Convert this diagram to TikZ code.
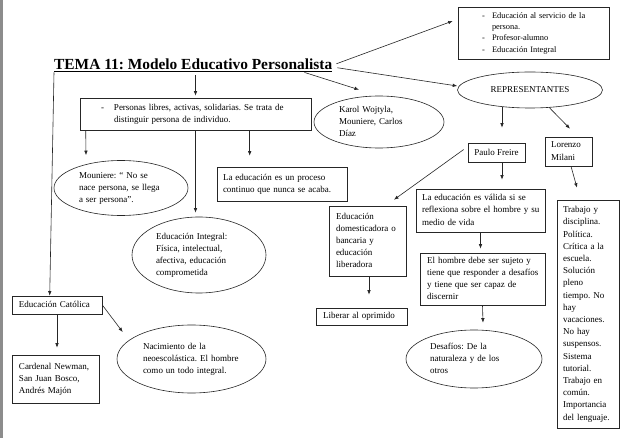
\documentclass[tikz,border=0pt]{standalone}
\usepackage{fontspec}
\setmainfont{Liberation Serif}
\usetikzlibrary{shapes.geometric,arrows.meta,calc}
\newcommand{\lns}[1]{\begin{tabular}{@{}l@{}}#1\end{tabular}}
\frenchspacing
\begin{document}
\begin{tikzpicture}[x=1pt,y=-1pt,
  every node/.style={font=\fontsize{9}{12.2}\selectfont, inner ysep=0pt},
  bx/.style={draw=black!85, line width=0.6pt, rectangle, align=left},
  el/.style={draw=black!85, line width=0.6pt, ellipse, align=left, inner sep=0pt},
  arr/.style={draw=black!85, line width=0.6pt, -{Latex[length=4.5pt,width=3.5pt]}},
  ttl/.style={font=\fontsize{15.4}{17}\bfseries, inner sep=0pt}]
\useasboundingbox (0,0) rectangle (640,438);
\fill[white] (0,0) rectangle (640,438);
\fill[black!45] (0,0) rectangle (2.5,438);

% title
\node[ttl, anchor=base west] (T) at (54,70) {\underline{TEMA 11: Modelo Educativo Personalista}};

% boxes
\node[bx, minimum width=231, minimum height=32, inner xsep=21, text width=189] (P) at (195.5,114)
  {\lns{\makebox[13pt][l]{-}Personas libres, activas, solidarias. Se trata de\\\hspace*{13pt}distinguir persona de individuo.}};
\node[bx, minimum width=130, minimum height=34, inner xsep=6, text width=118] (LE) at (282,184)
  {\lns{La educación es un proceso\\continuo que nunca se acaba.}};
\node[bx, minimum width=151, minimum height=52, inner xsep=24, text width=103, font=\fontsize{8.4}{11.4}\selectfont] (TR) at (533.5,33)
  {\lns{\makebox[10pt][l]{-}Educación al servicio de la\\\hspace*{10pt}persona.\\\makebox[10pt][l]{-}Profesor-alumno\\\makebox[10pt][l]{-}Educación Integral}};
\node[bx, minimum width=90, minimum height=18, inner xsep=7, text width=76] (EC) at (57,305)
  {\lns{Educación Católica}};
\node[bx, minimum width=87, minimum height=48, inner xsep=7, text width=73] (CN) at (55.5,379)
  {\lns{Cardenal Newman,\\San Juan Bosco,\\Andrés Majón}};
\node[bx, minimum width=57, minimum height=19, align=center] (PF) at (496.5,152.5)
  {Paulo Freire};
\node[bx, minimum width=47, minimum height=29, inner xsep=6, text width=35] (LM) at (568.5,151.5)
  {\lns{Lorenzo\\Milani}};
\node[bx, minimum width=77, minimum height=70, inner xsep=7, text width=63] (ED) at (367.5,241)
  {\lns{Educación\\domesticadora o\\bancaria y\\educación\\liberadora}};
\node[bx, minimum width=129, minimum height=43, inner xsep=6, text width=117] (LV) at (480.5,210.5)
  {\lns{La educación es válida si se\\reflexiona sobre el hombre y su\\medio de vida}};
\node[bx, minimum width=125, minimum height=52, inner xsep=7, text width=111] (EH) at (482.5,279)
  {\lns{El hombre debe ser sujeto y\\tiene que responder a desafíos\\y tiene que ser capaz de\\discernir}};
\node[bx, minimum width=91, minimum height=17, inner xsep=7, text width=77] (LO) at (361.5,316.5)
  {\lns{Liberar al oprimido}};
\node[bx, minimum width=62, minimum height=228, inner xsep=6, text width=50] (TD) at (588,314)
  {\lns{Trabajo y\\disciplina.\\Política.\\Crítica a la\\escuela.\\Solución\\pleno\\tiempo. No\\hay\\vacaciones.\\No hay\\suspensos.\\Sistema\\tutorial.\\Trabajo en\\común.\\Importancia\\del lenguaje.}};

% ellipses
\node[el, minimum width=134, minimum height=55, text width=84] (M) at (121,188)
  {\lns{Mouniere: “ No se\\nace persona, se llega\\a ser persona”.}};
\node[el, minimum width=134, minimum height=76, text width=86] (EI) at (199,255)
  {\lns{Educación Integral:\\Física, intelectual,\\afectiva, educación\\comprometida}};
\node[el, minimum width=130, minimum height=52, text width=80] (K) at (379,122)
  {\lns{Karol Wojtyla,\\Mouniere, Carlos\\Díaz}};
\node[el, minimum width=145, minimum height=36, align=center] (R) at (530,90)
  {REPRESENTANTES};
\node[el, minimum width=136, minimum height=58, text width=88] (D) at (474,359)
  {\lns{Desafíos: De la\\naturaleza y de los\\otros}};
\node[el, minimum width=149, minimum height=68, text width=97] (NA) at (191.5,359)
  {\lns{Nacimiento de la\\neoescolástica. El hombre\\como un todo integral.}};

% connectors
\draw[arr] (T.south west) -- ($(EC.north west)+(38,0)$);
\draw[arr, shorten <=3pt, shorten >=2pt] (T.south -| P.north) -- (P.north);
\draw[arr] ($(P.south west)+(6,0)$) -- ($(M.north)+(-35,-5)$);
\draw[arr, shorten >=4pt] (P.south) -- (P.south |- EI.north);
\draw[arr, shorten >=11pt] ($(P.south west)+(170,0)$) -- ($(LE.north west)+(33,0)$);
\draw[arr] ($(T.east)+(4,-2)$) -- ($(TR.west)+(-5,-12)$);
\draw[arr] ($(T.east)+(5,2)$) -- ($(R.west)+(0,-4)$);
\draw[arr] ($(T.south east)+(-28,0)$) -- ($(K.north)+(-20,-6)$);
\draw[arr] ($(R.south)+(-28,-1)$) -- ($(PF.north)+(5.5,-15)$);
\draw[arr] ($(R.south)+(19,-1)$) -- ($(LM.north)+(1.5,-8)$);
\draw[arr] ($(PF.west)+(-4,-3)$) -- ($(ED.north)+(26.5,-6)$);
\draw[arr, shorten >=9pt] ($(PF.south)+(5.5,0)$) -- ($(LV.north)+(21.5,0)$);
\draw[arr, shorten >=4pt] (LV.south) -- (LV.south |- EH.north);
\draw[arr] (EH.south) -- ($(D.north)+(9,-7)$);
\draw[arr] ($(LM.south)+(2.5,0)$) -- ($(TD.north)+(-11,-12)$);
\draw[arr, shorten >=13pt] ($(ED.south)+(1.5,0)$) -- ($(LO.north)+(7.5,0)$);
\draw[arr, shorten >=7pt] (EC.south) -- (EC.south |- CN.north);
\draw[arr] (EC.east) -- ($(NA.west)+(6,-27)$);
\end{tikzpicture}
\end{document}
